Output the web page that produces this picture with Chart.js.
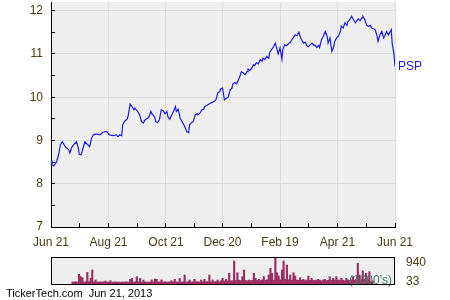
<!DOCTYPE html>
<html>
<head>
<meta charset="utf-8">
<script src="https://cdn.jsdelivr.net/npm/chart.js@4.4.0/dist/chart.umd.min.js"></script>
<style>
  html, body { margin: 0; padding: 0; background: #fff; }
  #wrap { position: relative; width: 450px; height: 300px; overflow: hidden; }
  #priceChart { position: absolute; left: 0; top: 0; }
  #volChart { position: absolute; left: 0; top: 250px; }
  #footer { position: absolute; left: 6px; top: 287px; font: 11px 'Liberation Sans', Arial, sans-serif; line-height: 13px; color: #000; white-space: pre; }
</style>
</head>
<body>
<div id="wrap">
  <canvas id="priceChart" width="450" height="252"></canvas>
  <canvas id="volChart" width="450" height="42"></canvas>
  <div id="footer">TickerTech.com  Jun 21, 2013</div>
</div>
<script>
// data (days since Jun 21, 2012)
const symbol = 'PSP';
const tickDays = [0, 61, 122, 182, 243, 304, 365];
const tickLabels = ['Jun 21', 'Aug 21', 'Oct 21', 'Dec 20', 'Feb 19', 'Apr 21', 'Jun 21'];
const minorTickDays = [30.5, 91.5, 152, 212.5, 273.5, 334.5];
const priceTicks = [7, 7.5, 8, 8.5, 9, 9.5, 10, 10.5, 11, 11.5, 12];
const volumeTicks = [33, 940];

const priceDays = [
  0, 1, 3, 6, 8, 10, 12, 15, 17, 19,
  20, 22, 24, 27, 29, 30, 32, 34, 36, 39,
  41, 43, 45, 48, 52, 55, 59, 62, 66, 69,
  71, 73, 75, 76, 78, 81, 82, 84, 86, 88,
  89, 92, 94, 96, 98, 100, 103, 104, 106, 107,
  110, 111, 113, 115, 117, 119, 121, 123, 124, 126,
  128, 130, 132, 133, 135, 137, 139, 141, 144, 146,
  147, 149, 151, 153, 155, 156, 158, 160, 162, 163,
  166, 169, 171, 173, 175, 177, 179, 180, 182, 184,
  185, 188, 190, 192, 193, 195, 197, 199, 201, 202,
  204, 206, 208, 209, 211, 213, 215, 216, 218, 220,
  222, 224, 225, 227, 229, 231, 232, 234, 236, 238,
  239, 241, 243, 245, 246, 248, 250, 252, 254, 255,
  257, 259, 261, 263, 265, 268, 270, 271, 273, 275,
  277, 279, 280, 282, 284, 285, 287, 289, 291, 293,
  294, 296, 298, 300, 301, 303, 305, 307, 308, 310,
  312, 314, 315, 317, 319, 321, 323, 324, 326, 328,
  330, 331, 333, 335, 337, 339, 340, 342, 344, 346,
  347, 349, 351, 353, 354, 356, 358, 360, 361, 362,
  364, 365
];
const prices = [
  8.55, 8.44, 8.41, 8.51, 8.67, 8.90, 8.97, 8.86, 8.82, 8.78,
  8.71, 8.84, 8.90, 8.97, 8.82, 8.68, 8.67, 8.82, 8.97, 8.90,
  8.86, 9.05, 9.13, 9.15, 9.13, 9.19, 9.21, 9.13, 9.11, 9.13,
  9.09, 9.13, 9.11, 9.36, 9.44, 9.50, 9.59, 9.84, 9.78, 9.71,
  9.75, 9.67, 9.59, 9.44, 9.40, 9.48, 9.52, 9.55, 9.67, 9.62,
  9.54, 9.44, 9.41, 9.48, 9.71, 9.69, 9.62, 9.67, 9.55, 9.49,
  9.59, 9.67, 9.78, 9.67, 9.72, 9.52, 9.44, 9.36, 9.21, 9.18,
  9.36, 9.41, 9.44, 9.59, 9.62, 9.59, 9.63, 9.71, 9.72, 9.78,
  9.82, 9.86, 9.88, 9.90, 9.94, 10.10, 10.13, 10.19, 10.21, 9.94,
  9.96, 10.00, 10.17, 10.21, 10.31, 10.34, 10.31, 10.40, 10.52, 10.59,
  10.56, 10.52, 10.59, 10.65, 10.62, 10.67, 10.75, 10.73, 10.80, 10.77,
  10.87, 10.83, 10.90, 10.87, 10.94, 10.90, 11.03, 11.10, 11.16, 11.25,
  11.17, 11.00, 11.14, 10.88, 11.10, 11.21, 11.19, 11.24, 11.27, 11.31,
  11.37, 11.44, 11.42, 11.50, 11.37, 11.25, 11.27, 11.21, 11.17, 11.21,
  11.25, 11.19, 11.21, 11.15, 11.20, 11.15, 11.33, 11.41, 11.52, 11.41,
  11.25, 11.37, 11.06, 11.17, 11.29, 11.37, 11.41, 11.52, 11.64, 11.60,
  11.72, 11.66, 11.75, 11.79, 11.87, 11.79, 11.72, 11.75, 11.81, 11.77,
  11.84, 11.87, 11.79, 11.66, 11.64, 11.66, 11.60, 11.58, 11.56, 11.41,
  11.29, 11.44, 11.52, 11.37, 11.41, 11.52, 11.44, 11.52, 11.56, 11.25,
  10.98, 10.71
];

const volDays = [
  0, 2, 4, 6, 8, 10, 12, 14, 16, 18,
  20, 22, 24, 26, 28, 30, 32, 34, 36, 38,
  40, 42, 44, 46, 48, 50, 52, 54, 56, 58,
  60, 62, 64, 66, 68, 70, 72, 74, 76, 78,
  80, 82, 84, 86, 88, 90, 92, 94, 96, 98,
  100, 102, 104, 106, 108, 110, 112, 114, 116, 118,
  120, 122, 124, 126, 128, 130, 132, 134, 136, 138,
  140, 142, 144, 146, 148, 150, 152, 154, 156, 158,
  160, 162, 164, 166, 168, 170, 172, 174, 176, 178,
  180, 182, 184, 186, 188, 190, 192, 194, 196, 198,
  200, 202, 204, 206, 208, 210, 212, 214, 216, 218,
  220, 222, 224, 226, 228, 230, 232, 234, 236, 238,
  240, 242, 244, 246, 248, 250, 252, 254, 256, 258,
  260, 262, 264, 266, 268, 270, 272, 274, 276, 278,
  280, 282, 284, 286, 288, 290, 292, 294, 296, 298,
  300, 302, 304, 306, 308, 310, 312, 314, 316, 318,
  320, 322, 324, 326, 328, 330, 332, 334, 336, 338,
  340, 342, 344, 346, 348, 350, 352, 354, 356, 358,
  360, 362, 364
];
const volumes = [
  40, 30, 50, 35, 400, 287, 238, 30, 45, 496,
  55, 208, 606, 40, 129, 35, 25, 50, 30, 40,
  81, 25, 35, 95, 20, 30, 40, 25, 35, 20,
  30, 25, 40, 35, 20, 162, 208, 35, 40, 287,
  50, 208, 30, 129, 35, 40, 25, 30, 129, 40,
  176, 162, 35, 40, 129, 30, 50, 25, 35, 40,
  95, 30, 162, 40, 25, 208, 35, 40, 367, 30,
  50, 129, 35, 40, 162, 55, 40, 35, 129, 50,
  162, 40, 55, 367, 35, 129, 40, 60, 129, 50,
  90, 208, 75, 162, 80, 448, 90, 100, 1035, 110,
  477, 120, 100, 287, 606, 110, 90, 129, 100, 120,
  448, 208, 110, 162, 100, 130, 287, 110, 140, 367,
  685, 448, 120, 1220, 477, 319, 130, 606, 1035, 150,
  844, 140, 367, 120, 477, 319, 130, 110, 238, 120,
  162, 100, 130, 319, 110, 208, 120, 100, 130, 162,
  110, 90, 130, 162, 100, 120, 287, 110, 208, 130,
  287, 110, 130, 208, 120, 100, 208, 130, 110, 140,
  287, 120, 150, 925, 367, 140, 573, 160, 448, 150,
  525, 49, 80
];

const textColor = '#4a3a14';
const fontFamily = "'Liberation Sans', Arial, sans-serif";
const xTickValues = tickDays.concat(minorTickDays).sort((a, b) => a - b);
const volMin = -110;
const volMax = 1226;

// fills the plot area, optional black frame
const plotBackground = {
  id: 'plotBackground',
  beforeDraw(chart, args, opts) {
    const { ctx, chartArea: a } = chart;
    ctx.save();
    ctx.fillStyle = opts.color;
    ctx.fillRect(a.left, a.top, a.right - a.left, a.bottom - a.top);
    ctx.restore();
  },
  afterDraw(chart, args, opts) {
    if (!opts.frame) return;
    const { ctx, chartArea: a } = chart;
    ctx.save();
    ctx.strokeStyle = '#000';
    ctx.lineWidth = 1;
    ctx.strokeRect(a.left + 0.5, a.top + 0.5, a.right - a.left - 1, a.bottom - a.top - 1);
    ctx.restore();
  }
};

const symbolLabel = {
  id: 'symbolLabel',
  afterDatasetsDraw(chart) {
    const meta = chart.getDatasetMeta(0);
    const last = meta.data[meta.data.length - 1];
    const ctx = chart.ctx;
    ctx.save();
    ctx.font = '12px ' + fontFamily;
    ctx.fillStyle = '#1c1ce8';
    ctx.textBaseline = 'middle';
    ctx.textAlign = 'left';
    ctx.fillText(symbol, last.x + 3, last.y);
    ctx.restore();
  }
};

const unitsLabel = {
  id: 'unitsLabel',
  afterDatasetsDraw(chart) {
    const { ctx, chartArea: a } = chart;
    ctx.save();
    ctx.font = '12px ' + fontFamily;
    ctx.fillStyle = '#4e7d6c';
    ctx.textBaseline = 'middle';
    ctx.textAlign = 'right';
    ctx.fillText("(1000's)", a.right - 3, a.bottom - 4);
    ctx.restore();
  }
};

new Chart(document.getElementById('priceChart'), {
  type: 'line',
  data: {
    datasets: [{
      data: priceDays.map((d, i) => ({ x: d, y: prices[i] })),
      borderColor: '#1c1ce8',
      borderWidth: 1.2,
      pointRadius: 0,
      tension: 0,
      fill: false
    }]
  },
  options: {
    responsive: false,
    animation: false,
    devicePixelRatio: 1,
    layout: { padding: { left: 0, right: 55, top: 2, bottom: 0 } },
    plugins: {
      legend: { display: false },
      tooltip: { enabled: false },
      plotBackground: { color: '#eeeeee', frame: false }
    },
    scales: {
      x: {
        type: 'linear',
        min: 0,
        max: 365,
        afterBuildTicks: s => { s.ticks = xTickValues.map(v => ({ value: v })); },
        afterFit: s => { s.height = 25; s.paddingLeft = 0; s.paddingRight = 0; },
        grid: {
          color: c => (c.tick && tickDays.includes(c.tick.value)) ? '#dcdcdc' : 'rgba(0,0,0,0)',
          tickColor: '#000',
          tickLength: -4
        },
        border: { color: '#000', width: 1 },
        ticks: {
          autoSkip: false,
          maxRotation: 0,
          padding: 12,
          color: textColor,
          font: { family: fontFamily, size: 12 },
          callback: v => {
            const i = tickDays.indexOf(v);
            return i >= 0 ? tickLabels[i] : '';
          }
        }
      },
      y: {
        min: 7,
        max: 12.2,
        afterBuildTicks: s => { s.ticks = priceTicks.map(v => ({ value: v })); },
        afterFit: s => { s.width = 51; s.paddingTop = 0; s.paddingBottom = 0; },
        grid: {
          color: c => (c.tick && Number.isInteger(c.tick.value)) ? '#dcdcdc' : 'rgba(0,0,0,0)',
          tickColor: '#000',
          tickLength: -4
        },
        border: { color: '#000', width: 1 },
        ticks: {
          autoSkip: false,
          padding: 12,
          color: textColor,
          font: { family: fontFamily, size: 12 },
          callback: v => Number.isInteger(v) ? String(v) : ''
        }
      }
    }
  },
  plugins: [plotBackground, symbolLabel]
});

new Chart(document.getElementById('volChart'), {
  type: 'bar',
  data: {
    datasets: [{
      data: volDays.map((d, i) => ({ x: d, y: volumes[i] })),
      backgroundColor: '#9c2f62',
      barThickness: 1.5,
      base: volMin
    }]
  },
  options: {
    responsive: false,
    animation: false,
    devicePixelRatio: 1,
    layout: { padding: { left: 51, right: 0, top: 7, bottom: 7 } },
    plugins: {
      legend: { display: false },
      tooltip: { enabled: false },
      plotBackground: { color: '#eeeeee', frame: true }
    },
    scales: {
      x: { type: 'linear', min: 0, max: 365, display: false },
      y: {
        position: 'right',
        min: volMin,
        max: volMax,
        afterBuildTicks: s => { s.ticks = volumeTicks.map(v => ({ value: v })); },
        afterFit: s => { s.width = 55; s.paddingTop = 0; s.paddingBottom = 0; },
        grid: { display: false },
        border: { display: false },
        ticks: {
          padding: 3,
          color: textColor,
          font: { family: fontFamily, size: 12 }
        }
      }
    }
  },
  plugins: [plotBackground, unitsLabel]
});
</script>
</body>
</html>
